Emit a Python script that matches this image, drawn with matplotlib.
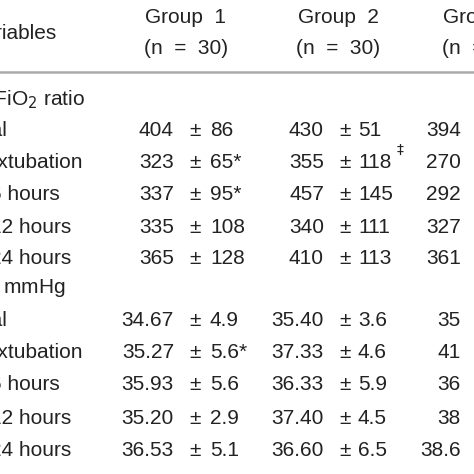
import matplotlib
matplotlib.use("Agg")
import matplotlib.pyplot as plt

W = H = 474
FS = 15
COLOR = "#222222"

headers = ["Group  1", "Group  2", "Group  3"]
ns = ["(n  =  30)", "(n  =  30)", "(n  =  30)"]

row_labels = ["PaO$_2$/FiO$_2$ ratio", "Initial", "After extubation", "6 hours",
              "12 hours", "24 hours", "PaCO$_2$, mmHg", "Initial",
              "After extubation", "6 hours", "12 hours", "24 hours"]
g1_mean = ["", "404", "323", "337", "335", "365", "", "34.67", "35.27", "35.93", "35.20", "36.53"]
g1_sd = ["", "86", "65*", "95*", "108", "128", "", "4.9", "5.6*", "5.6", "2.9", "5.1"]
g2_mean = ["", "430", "355", "457", "340", "410", "", "35.40", "37.33", "36.33", "37.40", "36.60"]
g2_sd = ["", "51", "118", "145", "111", "113", "", "3.6", "4.6", "5.9", "4.5", "6.5"]
g2_mark = ["", "", "\u2021", "", "", "", "", "", "", "", "", ""]
g3_mean = ["", "394", "270", "292", "327", "361", "", "35", "41", "36", "38", "38.6"]

row_y = [100, 130, 163, 194, 227, 258, 288, 320, 353, 385, 418, 450]
label_end = [85, 7, 83, 60, 71, 71, 66, 7, 83, 60, 71, 71]

fig = plt.figure(figsize=(4.74, 4.74), dpi=100)
fig.patch.set_facecolor("white")
ax = fig.add_axes([0, 0, 1, 1])
ax.set_xlim(0, W)
ax.set_ylim(H, 0)
ax.axis("off")

kw = dict(fontsize=FS, color=COLOR, va="center", family="Liberation Sans")

ax.text(57, 33, "Variables", ha="right", **kw)
for cx, h, n in zip([186, 338, 484], headers, ns):
    ax.text(cx, 17, h, ha="center", **kw)
    ax.text(cx, 48, n, ha="center", **kw)
ax.plot([0, W], [72, 72], color="#aaaaaa", lw=1.8)

for i, y in enumerate(row_y):
    ax.text(label_end[i], y, row_labels[i], ha="right", **kw)
    if g1_mean[i]:
        ax.text(174, y, g1_mean[i], ha="right", **kw)
        ax.text(195, y, "\u00b1", ha="center", **kw)
        ax.text(210, y, g1_sd[i], ha="left", **kw)
        ax.text(324, y, g2_mean[i], ha="right", **kw)
        ax.text(345, y, "\u00b1", ha="center", **kw)
        ax.text(358, y, g2_sd[i], ha="left", **kw)
        if g2_mark[i]:
            ax.text(400, y - 13, g2_mark[i], ha="center", fontsize=10,
                    color=COLOR, va="center", family="DejaVu Sans")
        ax.text(461, y, g3_mean[i], ha="right", **kw)

fig.savefig("out.png", dpi=100)
